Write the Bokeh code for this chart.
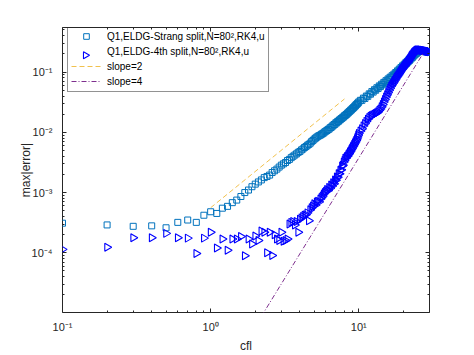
import numpy as np
from bokeh.plotting import figure
from bokeh.models import FixedTicker, LogAxis, Legend, LegendItem, Range1d
from bokeh.embed import file_html
from bokeh.resources import INLINE

# ---------------- data ----------------
cfl_a = [0.1, 0.2, 0.3, 0.4, 0.5, 0.6, 0.7, 0.8, 0.9, 1.0,
         1.1, 1.2, 1.3, 1.4, 1.5, 1.6, 1.7, 1.8, 1.9, 2.0,
         2.1, 2.2, 2.3, 2.4, 2.5, 2.6, 2.7, 2.8, 2.9, 3.0,
         3.1, 3.2, 3.3, 3.4, 3.5, 3.6, 3.7, 3.8, 3.9, 4.0,
         4.1, 4.2, 4.3, 4.4, 4.5, 4.6, 4.7, 4.8, 4.9, 5.0,
         5.1, 5.2, 5.3, 5.4, 5.5, 5.6, 5.7, 5.8, 5.9, 6.0]
cfl_b = [6.1, 6.2, 6.3, 6.4, 6.5, 6.6, 6.7, 6.8, 6.9, 7.0,
         7.1, 7.2, 7.3, 7.4, 7.5, 7.6, 7.7, 7.8, 7.9, 8.0,
         8.1, 8.2, 8.3, 8.4, 8.5, 8.6, 8.7, 8.8, 8.9, 9.0,
         9.1, 9.2, 9.3, 9.4, 9.5, 9.6, 9.7, 9.8, 9.9, 10.0]
cfl_c = [10.25, 10.5, 10.75, 11.0, 11.25, 11.5, 11.75, 12.0,
         12.25, 12.5, 12.75, 13.0, 13.25, 13.5, 13.75, 14.0,
         14.25, 14.5, 14.75, 15.0, 15.25, 15.5, 15.75, 16.0,
         16.25, 16.5, 16.75, 17.0, 17.25, 17.5, 17.75, 18.0,
         18.25, 18.5, 18.75, 19.0, 19.25, 19.5, 19.75, 20.0,
         20.25, 20.5, 20.75, 21.0, 21.25, 21.5, 21.75, 22.0,
         22.25, 22.5, 22.75, 23.0, 23.25, 23.5, 23.75, 24.0,
         24.25, 24.5, 24.75, 25.0, 25.25, 25.5, 25.75, 26.0,
         26.25, 26.5, 26.75, 27.0, 27.25, 27.5, 27.75, 28.0,
         28.25, 28.5, 28.75, 29.0, 29.25, 29.5, 29.75, 30.0]

strang_a = [3.1e-4, 2.9e-4, 2.75e-4, 2.8e-4, 2.6e-4, 3.2e-4, 3.5e-4, 3.2e-4, 4.2e-4, 4.8e-4,
            4.5e-4, 5.5e-4, 5.9e-4, 6.8e-4, 7.5e-4, 8.6e-4, 1.0e-3, 1.1e-3, 1.25e-3, 1.38e-3,
            1.5e-3, 1.62e-3, 1.77e-3, 1.85e-3, 1.95e-3, 2.15e-3, 2.3e-3, 2.45e-3, 2.65e-3, 2.85e-3,
            3.0e-3, 3.15e-3, 3.4e-3, 3.55e-3, 3.8e-3, 4.0e-3, 4.2e-3, 4.4e-3, 4.65e-3, 4.8e-3,
            5.1e-3, 5.3e-3, 5.6e-3, 5.8e-3, 6.1e-3, 6.3e-3, 6.6e-3, 7.0e-3, 7.3e-3, 7.7e-3,
            8.0e-3, 8.3e-3, 8.6e-3, 8.8e-3, 9.0e-3, 9.3e-3, 9.5e-3, 9.8e-3, 1.02e-2, 1.05e-2]
strang_b = [1.07e-2, 1.12e-2, 1.13e-2, 1.19e-2, 1.20e-2, 1.27e-2, 1.28e-2, 1.35e-2, 1.36e-2, 1.44e-2,
            1.44e-2, 1.52e-2, 1.53e-2, 1.60e-2, 1.62e-2, 1.69e-2, 1.71e-2, 1.78e-2, 1.80e-2, 1.88e-2,
            1.90e-2, 1.98e-2, 2.00e-2, 2.08e-2, 2.12e-2, 2.20e-2, 2.24e-2, 2.32e-2, 2.36e-2, 2.45e-2,
            2.48e-2, 2.58e-2, 2.62e-2, 2.73e-2, 2.76e-2, 2.88e-2, 2.92e-2, 3.03e-2, 3.07e-2, 3.2e-2]
strang_c = [3.40e-2, 3.40e-2, 3.70e-2, 3.65e-2, 4.00e-2, 3.95e-2, 4.35e-2, 4.30e-2,
            4.75e-2, 4.65e-2, 5.10e-2, 5.00e-2, 5.50e-2, 5.35e-2, 5.90e-2, 5.75e-2,
            6.30e-2, 6.15e-2, 6.75e-2, 6.60e-2, 7.20e-2, 7.05e-2, 7.70e-2, 7.55e-2,
            8.20e-2, 8.00e-2, 8.70e-2, 8.50e-2, 9.25e-2, 9.05e-2, 9.85e-2, 9.65e-2,
            1.05e-1, 1.03e-1, 1.12e-1, 1.09e-1, 1.19e-1, 1.16e-1, 1.27e-1, 1.24e-1,
            1.35e-1, 1.31e-1, 1.43e-1, 1.39e-1, 1.51e-1, 1.47e-1, 1.60e-1, 1.56e-1,
            1.69e-1, 1.65e-1, 1.79e-1, 1.75e-1, 1.89e-1, 1.85e-1, 1.99e-1, 1.95e-1,
            2.08e-1, 2.04e-1, 2.17e-1, 2.13e-1, 2.22e-1, 2.20e-1, 2.26e-1, 2.23e-1,
            2.25e-1, 2.22e-1, 2.24e-1, 2.21e-1, 2.23e-1, 2.20e-1, 2.22e-1, 2.19e-1,
            2.21e-1, 2.18e-1, 2.20e-1, 2.17e-1, 2.18e-1, 2.15e-1, 2.16e-1, 2.14e-1]

fourth_a = [1.14e-4, 1.24e-4, 1.78e-4, 1.78e-4, 2.1e-4, 1.78e-4, 1.75e-4, 9.7e-5, 1.75e-4, 2.2e-4,
            1.2e-4, 1.7e-4, 1.1e-4, 1.7e-4, 1.7e-4, 1.86e-4, 8.9e-5, 1.7e-4, 1.4e-4, 1.9e-4,
            1.6e-4, 2.3e-4, 2.2e-4, 1.0e-4, 2.2e-4, 9.0e-5, 2.0e-4, 1.7e-4, 1.6e-4, 2.2e-4,
            1.55e-4, 1.6e-4, 1.7e-4, 3.0e-4, 3.2e-4, 3.3e-4, 2.9e-4, 3.3e-4, 2.2e-4, 3.6e-4,
            3.8e-4, 4.0e-4, 4.2e-4, 4.3e-4, 4.6e-4, 3.4e-4, 5.2e-4, 5.6e-4, 6.0e-4, 6.5e-4,
            6.2e-4, 7.0e-4, 7.2e-4, 7.0e-4, 7.8e-4, 8.3e-4, 8.8e-4, 9.5e-4, 1.0e-3, 1.05e-3]
fourth_b = [1.12e-3, 1.08e-3, 1.22e-3, 1.18e-3, 1.33e-3, 1.28e-3, 1.45e-3, 1.40e-3, 1.62e-3, 1.60e-3,
            1.82e-3, 1.80e-3, 2.05e-3, 2.05e-3, 2.35e-3, 2.40e-3, 2.75e-3, 2.85e-3, 3.20e-3, 3.40e-3,
            3.70e-3, 3.75e-3, 3.95e-3, 4.05e-3, 4.30e-3, 4.45e-3, 4.70e-3, 4.90e-3, 5.20e-3, 5.45e-3,
            5.75e-3, 6.00e-3, 6.35e-3, 6.65e-3, 7.00e-3, 7.40e-3, 7.85e-3, 8.40e-3, 9.00e-3, 9.60e-3]
fourth_c = [1.05e-2, 1.15e-2, 1.28e-2, 1.40e-2, 1.52e-2, 1.65e-2, 1.76e-2, 1.85e-2,
            1.90e-2, 1.95e-2, 2.00e-2, 2.05e-2, 2.12e-2, 2.20e-2, 2.32e-2, 2.45e-2,
            2.65e-2, 2.90e-2, 3.20e-2, 3.50e-2, 3.85e-2, 4.20e-2, 4.60e-2, 5.00e-2,
            5.40e-2, 5.80e-2, 6.15e-2, 6.50e-2, 6.90e-2, 7.30e-2, 7.75e-2, 8.20e-2,
            8.60e-2, 9.00e-2, 9.50e-2, 1.00e-1, 1.05e-1, 1.10e-1, 1.15e-1, 1.20e-1,
            1.25e-1, 1.30e-1, 1.35e-1, 1.40e-1, 1.45e-1, 1.50e-1, 1.57e-1, 1.65e-1,
            1.72e-1, 1.80e-1, 1.88e-1, 1.95e-1, 2.02e-1, 2.10e-1, 2.15e-1, 2.20e-1,
            2.25e-1, 2.30e-1, 2.32e-1, 2.32e-1, 2.33e-1, 2.32e-1, 2.33e-1, 2.32e-1,
            2.32e-1, 2.31e-1, 2.31e-1, 2.30e-1, 2.29e-1, 2.28e-1, 2.27e-1, 2.26e-1,
            2.25e-1, 2.24e-1, 2.23e-1, 2.22e-1, 2.21e-1, 2.20e-1, 2.19e-1, 2.18e-1]

slope2_x = [1.0, 8.0]
slope2_y = [5.6e-4, 3.58e-2]
slope4_x = [2.2, 27.0]
slope4_y = [8.8e-6, 0.2]

x_ticks = [0.1, 1.0, 10.0]
x_tick_labels = ["10\u207b\u00b9", "10\u2070", "10\u00b9"]
y_ticks = [1e-4, 1e-3, 1e-2, 1e-1]
y_tick_labels = ["10\u207b\u2074", "10\u207b\u00b3", "10\u207b\u00b2", "10\u207b\u00b9"]

labels = ["Q1,ELDG-Strang split,N=80\u00b2,RK4,u",
          "Q1,ELDG-4th split,N=80\u00b2,RK4,u",
          "slope=2", "slope=4"]

cfl = cfl_a + cfl_b + cfl_c
err_strang = strang_a + strang_b + strang_c
err_4th = fourth_a + fourth_b + fourth_c

# ---------------- figure ----------------
FONT = "Liberation Sans"
AX = "#262626"
W, H = 474, 355
BL, BR, BT, BB = 62, 45, 27, 40
X0, X1 = 0.1, 30.0
Y0, Y1 = 1.02e-5, 0.55

p = figure(width=W, height=H, x_axis_type="log", y_axis_type="log",
           x_range=Range1d(X0, X1), y_range=Range1d(Y0, Y1),
           output_backend="svg", toolbar_location=None,
           min_border_left=BL, min_border_right=BR, min_border_top=BT, min_border_bottom=BB)
p.xgrid.visible = False
p.ygrid.visible = False
p.outline_line_color = AX
p.outline_line_width = 1
p.background_fill_color = "white"
p.border_fill_color = "white"

def minors(lo, hi):
    out = []
    for e in range(lo, hi):
        for m in range(2, 10):
            out.append(m * 10.0 ** e)
    return out

xt = FixedTicker(ticks=x_ticks, minor_ticks=minors(-1, 2))
yt = FixedTicker(ticks=y_ticks, minor_ticks=minors(-5, 0))

def style(ax, ticker):
    ax.ticker = ticker
    ax.axis_line_color = None
    ax.major_tick_in = 4
    ax.major_tick_out = 0
    ax.minor_tick_in = 2
    ax.minor_tick_out = 0
    ax.major_tick_line_color = AX
    ax.minor_tick_line_color = AX
    ax.major_label_text_font = FONT
    ax.major_label_text_font_size = "11px"
    ax.major_label_text_color = AX
    ax.axis_label_text_font = FONT
    ax.axis_label_text_font_size = "12px"
    ax.axis_label_text_font_style = "normal"
    ax.axis_label_text_color = AX

xa = p.xaxis[0]
style(xa, xt)
xa.major_label_overrides = {t: l for t, l in zip(x_ticks, x_tick_labels)}
xa.axis_label = "cfl"
xa.major_label_standoff = 8
xa.axis_label_standoff = 3

ya = p.yaxis[0]
style(ya, yt)
ya.major_label_overrides = {t: l for t, l in zip(y_ticks, y_tick_labels)}
ya.axis_label = "max|error|"
ya.major_label_standoff = 10
ya.axis_label_standoff = -4

ra = LogAxis()
style(ra, yt)
ra.major_label_text_color = None
ra.major_label_overrides = {t: " " for t in y_ticks}
p.add_layout(ra, "right")
ta = LogAxis()
style(ta, xt)
ta.major_label_text_color = None
ta.major_label_overrides = {t: " " for t in x_ticks}
ta.major_label_standoff = 0
p.add_layout(ta, "above")

# ---------------- glyphs ----------------
r1 = p.scatter(cfl, err_strang, marker="square", size=6, fill_color=None,
               line_color="#0072BD", line_width=1)
r2 = p.scatter(cfl, err_4th, marker="triangle", angle=-np.pi / 2, size=8,
               fill_color=None, line_color="#0000FF", line_width=1.1)
r3 = p.line(slope2_x, slope2_y, line_color="#EDB120", line_width=1, line_dash="5 3",
            line_alpha=0.8)
r4 = p.line(slope4_x, slope4_y, line_color="#7E2F8E", line_width=1, line_dash="5 2 1 2")
# invisible stand-in for the legend row of the triangles (legend cannot rotate markers)
r2_leg = p.scatter([], [], marker="triangle", fill_color=None, line_color=None)

LEG_X, LEG_Y = 5, 220
GW, GH, SP, PAD = 30, 14, 1, 3
legend = Legend(items=[LegendItem(label=labels[0], renderers=[r1]),
                       LegendItem(label=labels[1], renderers=[r2_leg]),
                       LegendItem(label=labels[2], renderers=[r3]),
                       LegendItem(label=labels[3], renderers=[r4])],
                location=(LEG_X, LEG_Y))
legend.label_text_font = FONT
legend.label_text_font_size = "10px"
legend.label_text_color = "#000000"
legend.glyph_width = GW
legend.glyph_height = GH
legend.label_height = GH
legend.spacing = SP
legend.padding = PAD
legend.margin = 0
legend.label_standoff = 6
legend.border_line_color = AX
legend.border_line_width = 1
# the legend corner is empty of data, so a see-through box lets the icon below show
legend.background_fill_alpha = 0
p.add_layout(legend, "center")

# right-pointing triangle icon of the legend's second row, placed from the legend geometry
fw, fh = W - BL - BR, H - BT - BB
leg_h = 2 * PAD + 4 * GH + 3 * SP
icon_px = LEG_X + PAD + GW / 2
icon_py_from_bottom = LEG_Y + leg_h - PAD - GH - SP - GH / 2
lx = 10 ** (np.log10(X0) + icon_px / fw * (np.log10(X1) - np.log10(X0)))
ly = 10 ** (np.log10(Y0) + icon_py_from_bottom / fh * (np.log10(Y1) - np.log10(Y0)))
p.scatter([lx], [ly], marker="triangle", angle=-np.pi / 2, size=7,
          fill_color=None, line_color="#0000FF", line_width=1.1)

open("out.html", "w").write(file_html(p, INLINE))
